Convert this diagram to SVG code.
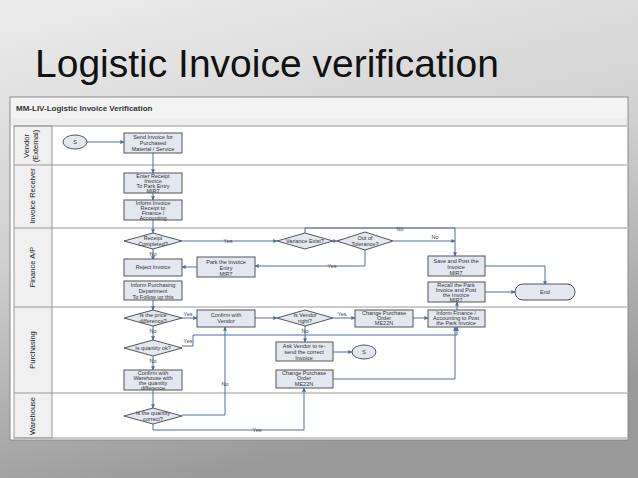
<svg xmlns="http://www.w3.org/2000/svg" width="638" height="478" viewBox="0 0 638 478">
<defs>
<linearGradient id="bg" x1="0" y1="0" x2="0.3" y2="1"><stop offset="0" stop-color="#ececec"/><stop offset="0.5" stop-color="#d0d0d0"/><stop offset="1" stop-color="#9a9a9a"/></linearGradient>
<marker id="a" viewBox="0 0 6 6" refX="5.5" refY="3" markerWidth="4" markerHeight="4" orient="auto"><path d="M0,0L6,3L0,6z" fill="#4a6fa5"/></marker>
<style>
.b{fill:#e3e7f0;stroke:#555;stroke-width:1}
.t{font-family:"Liberation Sans",Arial,sans-serif;font-size:5.5px;fill:#333;text-anchor:middle}
.l{font-family:"Liberation Sans",Arial,sans-serif;font-size:7.5px;fill:#222;text-anchor:middle}
.c path{fill:none;stroke:#4a6fa5;stroke-width:1;marker-end:url(#a)}
.c text{font-family:"Liberation Sans",Arial,sans-serif;font-size:5.5px;fill:#444;text-anchor:middle}
.lane{fill:none;stroke:#999;stroke-width:1}
</style>
</defs>
<rect width="638" height="478" fill="url(#bg)"/>
<text x="35" y="77" font-family="Liberation Sans,Arial,sans-serif" font-size="39" fill="#111">Logistic Invoice verification</text>
<rect x="10" y="97" width="618" height="343" fill="#fff" stroke="#888"/>
<rect x="11" y="98" width="616" height="20" fill="#f3f3f3"/>
<text x="16" y="111" font-family="Liberation Sans,Arial,sans-serif" font-size="8" font-weight="bold" fill="#333">MM-LIV-Logistic Invoice Verification</text>
<rect x="11" y="118" width="616" height="8" fill="#eee"/>
<rect x="14" y="126" width="38" height="312" fill="#f0f0f0" stroke="#999"/>
<g class="lane"><line x1="14" y1="126" x2="627" y2="126"/><line x1="14" y1="165" x2="627" y2="165"/><line x1="14" y1="228" x2="627" y2="228"/><line x1="14" y1="307" x2="627" y2="307"/><line x1="14" y1="393" x2="627" y2="393"/><line x1="14" y1="438" x2="627" y2="438"/></g>
<text class="l" transform="translate(29,146) rotate(-90)">Vendor</text>
<text class="l" transform="translate(38,146) rotate(-90)">(External)</text>
<text class="l" transform="translate(35,196) rotate(-90)">Invoice Receiver</text>
<text class="l" transform="translate(35,267) rotate(-90)">Finance A/P</text>
<text class="l" transform="translate(35,350) rotate(-90)">Purchasing</text>
<text class="l" transform="translate(35,416) rotate(-90)">Warehouse</text>

<g class="c">
<path d="M87,142H124"/>
<path d="M153,153V173"/>
<path d="M153,193V200"/>
<path d="M153,220V233"/>
<path d="M182,241H277"/><text x="228" y="243">Yes</text>
<path d="M153,249V260"/><text x="153" y="256">No</text>
<path d="M333,241H337"/><text x="343" y="243">Yes</text>
<path d="M305,233V228H455V256"/><text x="400" y="231">No</text>
<path d="M393,241H455"/><text x="435" y="239">No</text>
<path d="M365,250V266H255"/><text x="332" y="268">Yes</text>
<path d="M197,267H182"/>
<path d="M485,266H545V285"/>
<path d="M485,292H515"/>
<path d="M457,310V302"/>
<path d="M153,300V310"/>
<path d="M182,318H197"/><text x="188" y="316">Yes</text>
<path d="M255,318H277"/>
<path d="M333,318H355"/><text x="342" y="316">Yes</text>
<path d="M413,318H428"/>
<path d="M305,326V342"/><text x="305" y="333">No</text>
<path d="M333,352H352"/>
<path d="M153,326V340"/><text x="153" y="333">No</text>
<path d="M182,346H193V335H457V327"/><text x="188" y="343">Yes</text>
<path d="M153,356V370"/><text x="153" y="363">No</text>
<path d="M153,390V408"/>
<path d="M182,415H225V327"/><text x="225" y="386">No</text>
<path d="M153,424V430H304V388"/><text x="257" y="432">Yes</text>
<path d="M333,379H455V327"/>
</g>

<g id="s1"><ellipse cx="75" cy="142" rx="12" ry="7" fill="#e3e7f0" stroke="#555"/><text class="t" x="75" y="144">S</text></g>
<g id="send"><rect class="b" x="124" y="133" width="58" height="20"/><text class="t" x="153" y="139">Send Invoice for</text><text class="t" x="153" y="145">Purchased</text><text class="t" x="153" y="151">Material / Service</text></g>
<g id="enter"><rect class="b" x="124" y="173" width="58" height="20"/><text class="t" x="153" y="178">Enter Receipt</text><text class="t" x="153" y="183">Invoice</text><text class="t" x="153" y="188">To Park Entry</text><text class="t" x="153" y="193">MIR7</text></g>
<g id="inform1"><rect class="b" x="124" y="200" width="58" height="20"/><text class="t" x="153" y="205">Inform Invoice</text><text class="t" x="153" y="210">Receipt to</text><text class="t" x="153" y="215">Finance /</text><text class="t" x="153" y="220">Accounting</text></g>
<g id="d1"><polygon class="b" points="124,241 153,233 182,241 153,249"/><text class="t" x="153" y="240">Receipt</text><text class="t" x="153" y="246">Completed?</text></g>
<g id="reject"><rect class="b" x="124" y="259" width="58" height="17"/><text class="t" x="153" y="269">Reject Invoice</text></g>
<g id="park"><rect class="b" x="197" y="257" width="58" height="20"/><text class="t" x="226" y="264">Park the Invoice</text><text class="t" x="226" y="270">Entry</text><text class="t" x="226" y="276">MIR7</text></g>
<g id="d2"><polygon class="b" points="277,241 305,233 333,241 305,249"/><text class="t" x="305" y="243">Variance Exist?</text></g>
<g id="d3"><polygon class="b" points="337,241 365,232 393,241 365,250"/><text class="t" x="365" y="240">Out of</text><text class="t" x="365" y="246">Tolerance?</text></g>
<g id="save"><rect class="b" x="428" y="256" width="57" height="20"/><text class="t" x="456" y="263">Save and Post the</text><text class="t" x="456" y="269">Invoice</text><text class="t" x="456" y="275">MIR7</text></g>
<g id="recall"><rect class="b" x="428" y="282" width="57" height="20"/><text class="t" x="456" y="287">Recall the Park</text><text class="t" x="456" y="292">Invoice and Post</text><text class="t" x="456" y="297">the Invoice</text><text class="t" x="456" y="302">MIR7</text></g>
<g id="end"><rect class="b" x="515" y="284" width="60" height="16" rx="8"/><text class="t" x="545" y="294">End</text></g>
<g id="informp"><rect class="b" x="124" y="281" width="58" height="19"/><text class="t" x="153" y="287">Inform Purchasing</text><text class="t" x="153" y="293">Department</text><text class="t" x="153" y="299">To Follow up this</text></g>
<g id="d4"><polygon class="b" points="124,318 153,310 182,318 153,326"/><text class="t" x="153" y="317">Is the price</text><text class="t" x="153" y="323">difference?</text></g>
<g id="confv"><rect class="b" x="197" y="310" width="58" height="17"/><text class="t" x="226" y="317">Confirm with</text><text class="t" x="226" y="323">Vendor</text></g>
<g id="d5"><polygon class="b" points="277,318 305,310 333,318 305,326"/><text class="t" x="305" y="317">Is Vendor</text><text class="t" x="305" y="323">right?</text></g>
<g id="cpo1"><rect class="b" x="355" y="310" width="58" height="17"/><text class="t" x="384" y="315">Change Purchase</text><text class="t" x="384" y="320">Order</text><text class="t" x="384" y="325">ME22N</text></g>
<g id="informf"><rect class="b" x="428" y="310" width="57" height="17"/><text class="t" x="456" y="315">Inform Finance /</text><text class="t" x="456" y="320">Accounting to Post</text><text class="t" x="456" y="325">the Park Invoice</text></g>
<g id="d6"><polygon class="b" points="124,348 153,340 182,348 153,356"/><text class="t" x="153" y="350">Is quantity ok?</text></g>
<g id="ask"><rect class="b" x="276" y="342" width="57" height="19"/><text class="t" x="304" y="348">Ask Vendor to re-</text><text class="t" x="304" y="354">send the correct</text><text class="t" x="304" y="360">Invoice</text></g>
<g id="s2"><ellipse cx="364" cy="352" rx="12" ry="7" fill="#e3e7f0" stroke="#555"/><text class="t" x="364" y="354">S</text></g>
<g id="confw"><rect class="b" x="124" y="370" width="58" height="20"/><text class="t" x="153" y="375">Confirm with</text><text class="t" x="153" y="380">Warehouse with</text><text class="t" x="153" y="385">the quantity</text><text class="t" x="153" y="390">difference</text></g>
<g id="cpo2"><rect class="b" x="276" y="370" width="57" height="18"/><text class="t" x="304" y="375">Change Purchase</text><text class="t" x="304" y="380">Order</text><text class="t" x="304" y="386">ME22N</text></g>
<g id="d7"><polygon class="b" points="124,416 153,408 182,416 153,424"/><text class="t" x="153" y="415">Is the quantity</text><text class="t" x="153" y="421">correct?</text></g>
</svg>
